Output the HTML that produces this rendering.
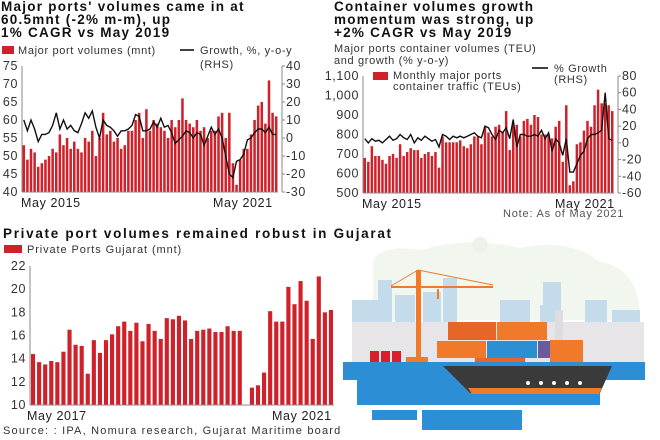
<!DOCTYPE html>
<html><head><meta charset="utf-8"><style>
body{margin:0;background:#fff;width:660px;height:440px;overflow:hidden}
svg{display:block;font-family:"Liberation Sans",sans-serif}
.t{font-weight:bold;font-size:13.5px;letter-spacing:1.25px;fill:#111}
.l{font-size:11px;letter-spacing:0.65px;fill:#333}
</style></head><body>
<svg id="s" width="660" height="440" viewBox="0 0 660 440" xmlns="http://www.w3.org/2000/svg">
<g class="t">
<text x="1" y="11">Major ports' volumes came in at</text>
<text x="1" y="24">60.5mnt (-2% m-m), up</text>
<text x="1" y="37">1% CAGR vs May 2019</text>
<text x="334" y="11">Container volumes growth</text>
<text x="334" y="24">momentum was strong, up</text>
<text x="334" y="37">+2% CAGR vs May 2019</text>
<text x="3" y="238" style="letter-spacing:1.7px">Private port volumes remained robust in Gujarat</text>
</g>
<g class="l">
<rect x="2" y="46" width="12" height="8" fill="#d0202a"/>
<text x="18" y="54">Major port volumes (mnt)</text>
<line x1="180" y1="50" x2="194" y2="50" stroke="#111" stroke-width="1.6"/>
<text x="200" y="54">Growth, %, y-o-y</text>
<text x="200" y="68">(RHS)</text>
<text x="334" y="52">Major ports container volumes (TEU)</text>
<text x="334" y="64">and growth (% y-o-y)</text>
<rect x="373" y="72" width="15" height="8" fill="#d0202a"/>
<text x="393" y="79">Monthly major ports</text>
<text x="393" y="90">container traffic (TEUs)</text>
<line x1="532" y1="68" x2="548" y2="68" stroke="#111" stroke-width="1.6"/>
<text x="554" y="72">% Growth</text>
<text x="554" y="83">(RHS)</text>
<rect x="4" y="245" width="18" height="8" fill="#d0202a"/>
<text x="27" y="253" style="letter-spacing:0.9px">Private Ports Gujarat (mnt)</text>
<text x="3" y="434" style="letter-spacing:1.2px">Source: : IPA, Nomura research, Gujarat Maritime board</text>
<text x="503" y="217" style="fill:#555;letter-spacing:0.8px">Note: As of May 2021</text>
</g>
<g id="c"></g>
<g>
<path d="M373,262 Q380,244 420,250 Q470,236 520,248 Q570,238 600,262 Q640,268 640,320 L373,320Z" fill="#f1f6ee"/>
<circle cx="480" cy="245" r="8" fill="#eaf2ea"/>
<g fill="#c4dbec">
<rect x="352" y="300" width="30" height="62"/><rect x="378" y="280" width="14" height="82"/>
<rect x="395" y="295" width="20" height="67"/><rect x="423" y="292" width="18" height="70"/>
<rect x="443" y="278" width="14" height="84"/><rect x="500" y="300" width="30" height="62"/>
<rect x="540" y="305" width="20" height="57"/><rect x="543" y="282" width="18" height="80"/>
<rect x="585" y="300" width="22" height="62"/><rect x="612" y="310" width="28" height="52"/>
</g>
<rect x="352" y="322" width="292" height="44" fill="#e8e5e8"/>
<g fill="#f07a2a">
<rect x="416" y="270" width="5" height="92"/>
<line x1="391" y1="287" x2="493" y2="287" stroke="#f07a2a" stroke-width="2"/>
<line x1="418" y1="270" x2="493" y2="285" stroke="#f07a2a" stroke-width="1"/>
<line x1="418" y1="270" x2="391" y2="286" stroke="#f07a2a" stroke-width="1"/>
<rect x="437" y="289" width="2" height="10"/>
<rect x="406" y="357" width="22" height="8"/>
</g>
<g fill="#d81f2a"><rect x="370" y="351" width="9" height="16"/><rect x="381" y="351" width="9" height="16"/><rect x="392" y="351" width="9" height="16"/></g>
<rect x="448" y="322" width="48" height="18" fill="#e8652a"/>
<rect x="497" y="322" width="50" height="18" fill="#f07a2a"/>
<rect x="437" y="341" width="49" height="17" fill="#f07a2a"/>
<rect x="487" y="341" width="50" height="17" fill="#2c8fd4"/>
<rect x="538" y="341" width="12" height="17" fill="#6a5aa0"/>
<rect x="550" y="340" width="33" height="36" fill="#f07a2a"/>
<rect x="555" y="310" width="8" height="30" fill="#ddd"/>
<rect x="475" y="358" width="50" height="18" fill="#e8652a"/>
<rect x="526" y="362" width="24" height="14" fill="#c9c9c9"/>
<path d="M343,362 H645 V380 H343Z M357,380 H600 V405 H357Z M372,410 H417 V420 H372Z M422,410 H522 V430 H422Z" fill="#2c8fd6"/>
<polygon points="443,366 612,366 600,393 470,393" fill="#3a3a3a"/>
<polygon points="468,388 602,388 599,394 472,394" fill="#f07a2a"/>
<g fill="#fff"><circle cx="528" cy="383" r="2"/><circle cx="541" cy="383" r="2"/><circle cx="554" cy="383" r="2"/><circle cx="567" cy="383" r="2"/><circle cx="580" cy="383" r="2"/></g>
</g>
</svg>
<script>
const NS="http://www.w3.org/2000/svg",G=document.getElementById('c');
function el(t,a,txt){const e=document.createElementNS(NS,t);for(const k in a)e.setAttribute(k,a[k]);if(txt!==undefined)e.textContent=txt;G.appendChild(e);return e;}
const TS='letter-spacing:0.6px';
function chart(o){
 const {x0,x1,y0,y1,lmin,lmax,lt,bars,line,rmin,rmax,rt,fmt,rx,xl}=o;
 const ly=v=>y1-(v-lmin)/(lmax-lmin)*(y1-y0);
 const n=bars.length,step=(x1-x0)/n,bw=step*o.bwr;
 bars.forEach((v,i)=>{if(v==null)return;el('rect',{x:x0+i*step+(step-bw)/2,y:ly(v),width:bw,height:y1-ly(v),fill:'#d0202a'});});
 el('line',{x1:x0,y1:y0,x2:x0,y2:y1,stroke:'#888','stroke-width':1});
 el('line',{x1:x0,y1:y1,x2:x1,y2:y1,stroke:'#888','stroke-width':1});
 lt.forEach(v=>el('text',{x:x0-4,y:ly(v)+4,'text-anchor':'end','font-size':12.5,fill:'#333',style:TS},fmt?fmt(v):v));
 if(line){
  const ry=v=>y1-(v-rmin)/(rmax-rmin)*(y1-y0);
  const m=line.length,s2=(x1-x0)/m;
  el('polyline',{points:line.map((v,i)=>(x0+(i+.5)*s2).toFixed(1)+','+ry(v).toFixed(1)).join(' '),fill:'none',stroke:'#111','stroke-width':1.4});
  el('line',{x1:rx,y1:y0,x2:rx,y2:y1,stroke:'#888'});
  rt.forEach(v=>{el('line',{x1:rx,y1:ry(v),x2:rx+3,y2:ry(v),stroke:'#888'});el('text',{x:rx+4,y:ry(v)+4,'font-size':12.5,fill:'#333',style:TS},v);});
 }
 xl.forEach(a=>el('text',{x:a[0],y:y1+15,'font-size':12.5,fill:'#222',style:TS},a[1]));
}
chart({x0:22,x1:278,y0:66,y1:192,lmin:40,lmax:75,lt:[40,45,50,55,60,65,70,75],bwr:.7,rx:282,rmin:-30,rmax:40,rt:[40,30,20,10,0,-10,-20,-30],
bars:[53,49,52,51,47,48,49,50,52,51,56,53,55,52,54,52,51,55,54,57,50,55,62,56,57,54,55,52,53,57,57,60,62,55,63,57,60,59,58,57,55,60,58,60,66,60,59,58,60,57,58,55,57,57,61,62,55,62,48,42,49,52,52,56,60,64,65,59,71,62,61],
line:[10,4,10,5,-2,2,2,3,7,14,5,10,5,7,4,3,8,14,11,15,6,0,10,7,6,4,1,4,4,5,7,13,12,4,4,5,9,6,11,6,7,3,-3,-1,1,4,3,0,3,2,-4,1,6,2,5,0,-10,-20,-22,-13,-12,-9,-1,0,3,5,5,3,6,2,2],
xl:[[21,'May 2015'],[213,'May 2021']]});
chart({x0:363,x1:614,y0:76,y1:193,lmin:500,lmax:1100,lt:[500,600,700,800,900,1000,1100],fmt:v=>v>=1000?(v/1000|0)+','+String(v%1000).padStart(3,'0'):v,bwr:.7,rx:618,rmin:-60,rmax:80,rt:[80,60,40,20,0,-20,-40,-60],
bars:[680,660,740,690,690,670,650,690,700,680,750,690,710,730,720,720,680,700,710,690,710,630,790,760,760,760,760,770,740,730,750,790,790,750,840,810,790,840,850,810,920,720,860,850,790,870,880,850,900,890,800,800,800,780,840,870,660,950,540,560,750,760,820,870,840,950,1030,960,960,950,920],
line:[5,0,5,2,3,0,4,8,3,5,10,6,4,10,0,6,3,8,5,2,4,-5,10,8,4,8,6,8,6,8,10,12,8,6,20,18,10,4,15,12,18,5,28,-5,10,10,8,8,10,8,15,5,12,-10,5,0,-15,5,-35,-35,-25,-15,-10,5,10,10,12,15,60,5,3],
xl:[[362,'May 2015'],[555,'May 2021']]});
chart({x0:30,x1:334,y0:266,y1:405,lmin:10,lmax:22,lt:[10,12,14,16,18,20,22],bwr:.68,
bars:[14.4,13.7,13.5,13.8,13.7,14.6,16.5,15.2,15.1,12.7,15.6,14.5,15.6,16.1,16.8,17.2,16.4,17.1,15.5,17.0,16.4,15.7,17.5,17.4,17.7,17.3,15.7,16.4,16.5,16.6,16.3,16.3,16.8,16.4,16.4,null,11.5,11.7,12.8,18.1,17.2,17.2,20.2,18.7,20.7,19.0,15.7,21.1,18.0,18.2],
xl:[[27,'May 2017'],[272,'May 2021']]});
</script>
</body></html>
